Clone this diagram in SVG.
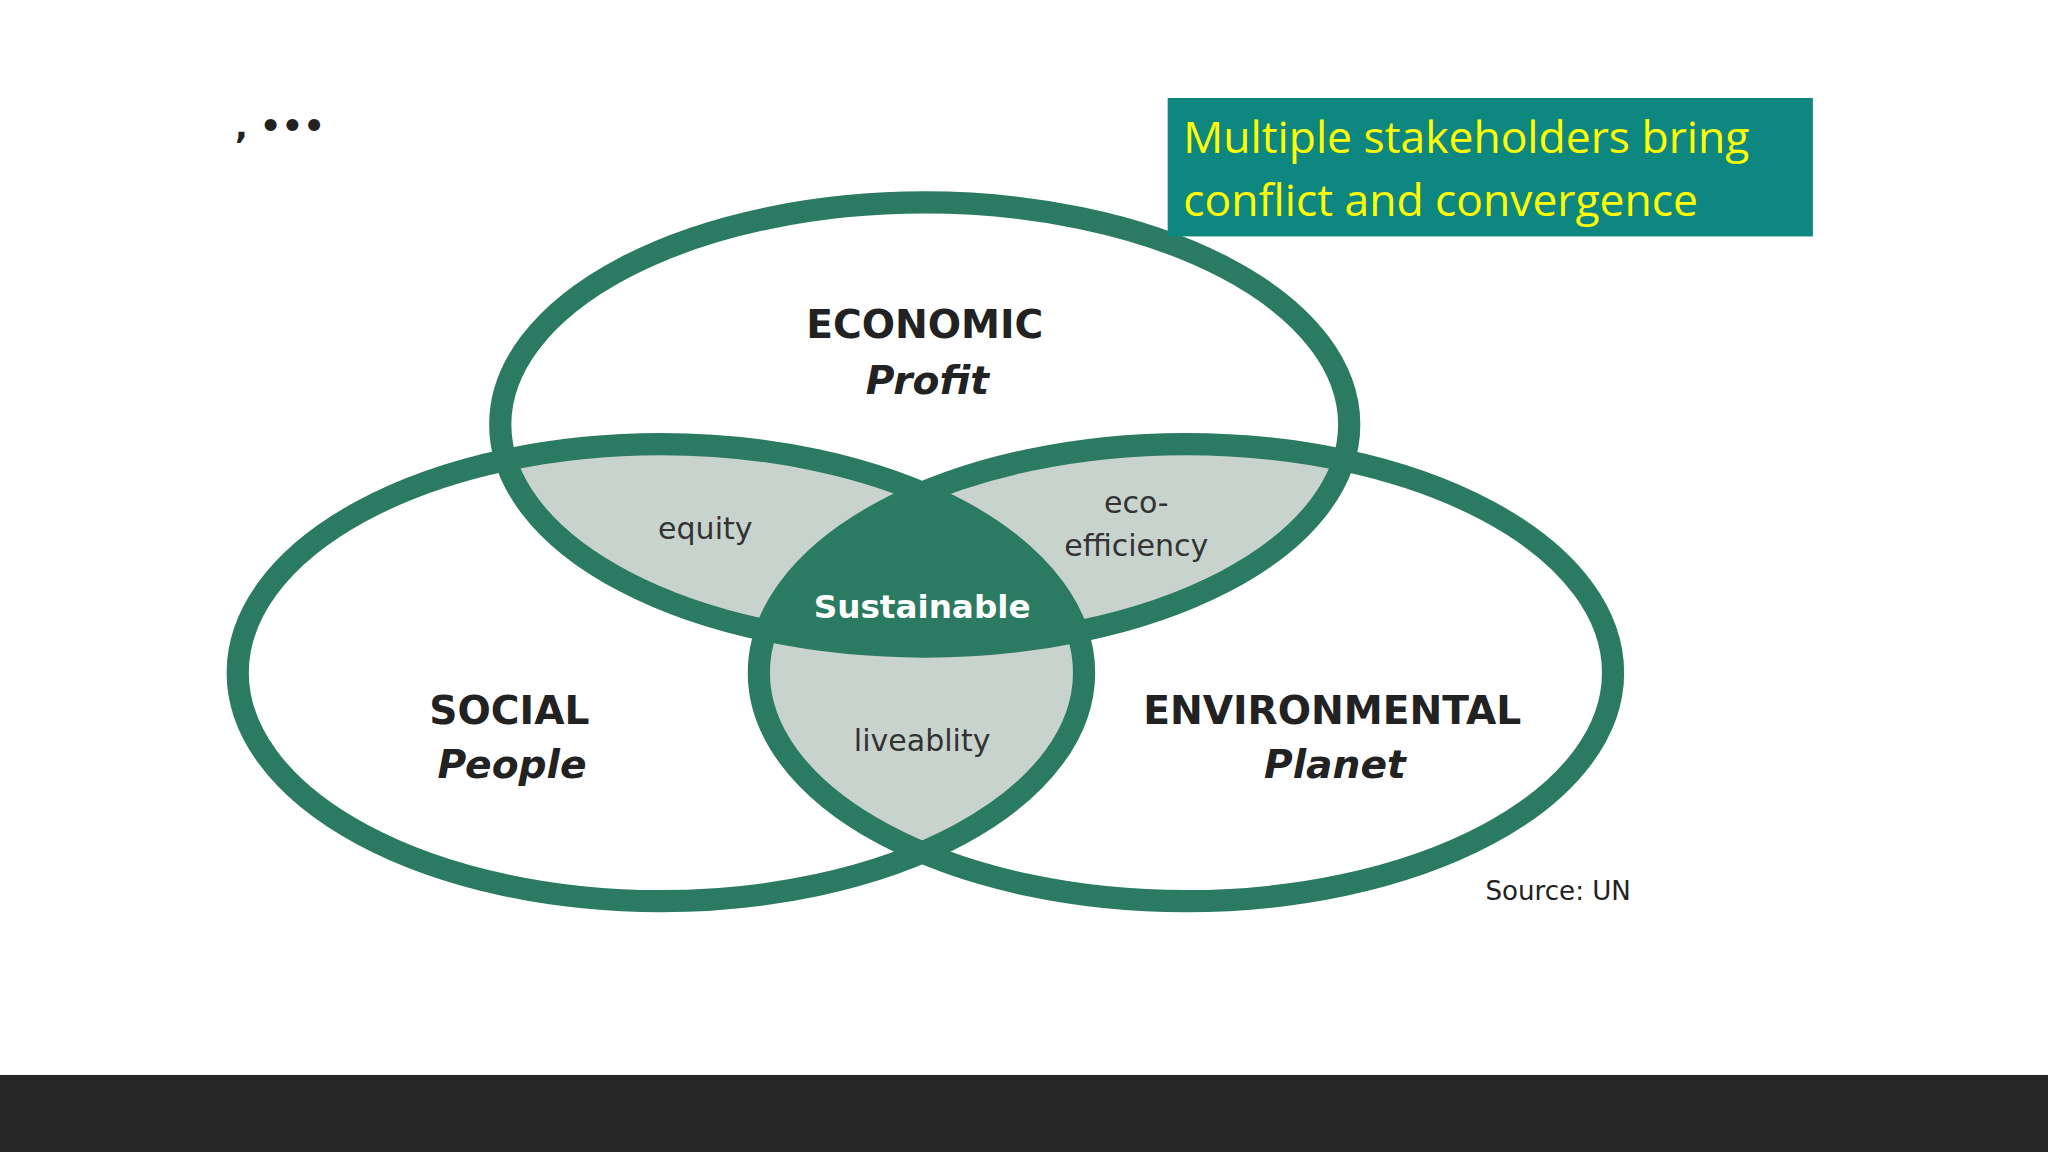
<svg xmlns="http://www.w3.org/2000/svg" width="2048" height="1152" viewBox="0 0 2048 1152">
<style>
.ring{fill:none;stroke:#2b7a62;stroke-width:17}
.t{font-family:"DejaVu Sans",Verdana,sans-serif;text-anchor:middle;fill:#222}
.h{font-weight:bold;font-size:30px}
.i{font-weight:bold;font-style:italic;font-size:30px}
.s{font-size:23px;fill:#333}
.title{font-family:"Open Sans","Liberation Sans",sans-serif;font-size:34px;fill:#ffff00}
</style>
<defs>
<clipPath id="cE"><ellipse cx="708" cy="325" rx="325" ry="170"/></clipPath>
<clipPath id="cS"><ellipse cx="506" cy="515" rx="324" ry="175"/></clipPath>
<clipPath id="cR"><ellipse cx="908" cy="515" rx="327" ry="175"/></clipPath>
</defs>
<rect width="2048" height="1152" fill="#ffffff"/>
<g transform="scale(1.30612)">
<text x="180" y="106" font-family="DejaVu Sans,sans-serif" font-weight="bold" font-size="26" fill="#222">, •••</text>
<g id="overlaps">
<g clip-path="url(#cE)"><ellipse cx="506" cy="515" rx="324" ry="175" fill="#c9d3ce"/></g>
<g clip-path="url(#cE)"><ellipse cx="908" cy="515" rx="327" ry="175" fill="#c9d3ce"/></g>
<g clip-path="url(#cS)"><ellipse cx="908" cy="515" rx="327" ry="175" fill="#c9d3ce"/></g>
<g clip-path="url(#cE)"><g clip-path="url(#cS)"><ellipse cx="908" cy="515" rx="327" ry="175" fill="#2b7a62"/></g></g>
</g>
<g id="economic"><ellipse class="ring" cx="708" cy="325" rx="325" ry="170"/>
<text class="t h" x="708" y="259">ECONOMIC</text><text class="t i" x="710" y="302">Profit</text></g>
<g id="social"><ellipse class="ring" cx="506" cy="515" rx="324" ry="175"/>
<text class="t h" x="390" y="554">SOCIAL</text><text class="t i" x="392" y="596">People</text></g>
<g id="environmental"><ellipse class="ring" cx="908" cy="515" rx="327" ry="175"/>
<text class="t h" x="1020" y="554">ENVIRONMENTAL</text><text class="t i" x="1022" y="596">Planet</text></g>
<g id="labels">
<text class="t s" x="540" y="413">equity</text>
<text class="t s" x="870" y="393">eco-</text>
<text class="t s" x="870" y="426">efficiency</text>
<text class="t" x="706" y="473" font-weight="bold" font-size="25" fill="#ffffff" style="fill:#fff">Sustainable</text>
<text class="t s" x="706" y="575">liveablity</text>
<text class="t" x="1193" y="689" font-size="20" fill="#333">Source: UN</text>
</g>
<g id="titlebox"><rect x="894" y="75" width="494" height="106" fill="#0e8780"/>
<text class="title" x="906" y="117">Multiple stakeholders bring</text>
<text class="title" x="906" y="165">conflict and convergence</text></g>
<rect x="0" y="823" width="1568" height="59" fill="#262626"/>
</g>
</svg>
